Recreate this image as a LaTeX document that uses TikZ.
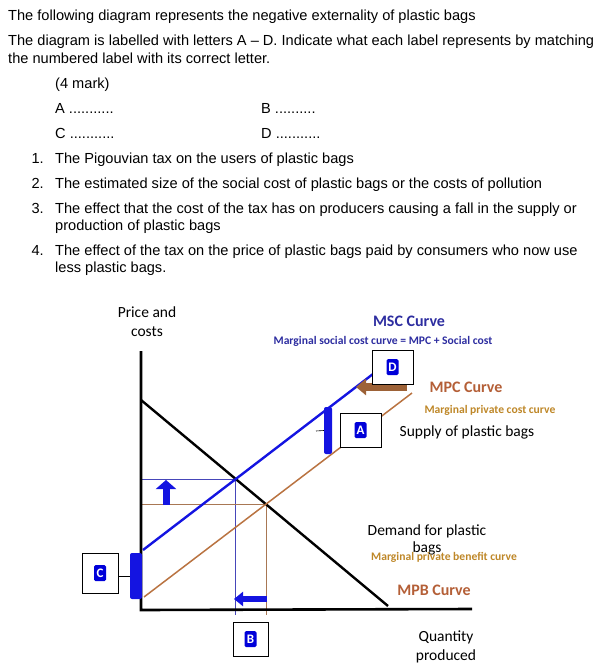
\documentclass[tikz,border=0pt]{standalone}
\usepackage{fontspec}
\setmainfont{Liberation Sans}
\newfontfamily\chartfont{Carlito}
\usetikzlibrary{arrows.meta,positioning}

\definecolor{mscblue}{RGB}{20,20,225}
\definecolor{msctext}{RGB}{45,45,160}
\definecolor{mpcbrown}{RGB}{185,115,65}
\definecolor{mpctext}{RGB}{180,95,55}
\definecolor{goldtext}{RGB}{190,135,40}

\begin{document}
\begin{tikzpicture}[x=1pt,y=-1pt,
    qtext/.style={anchor=base west, inner sep=0pt, font=\fontsize{14.6}{16}\selectfont},
    qnum/.style={anchor=base east, inner sep=0pt, font=\fontsize{14.6}{16}\selectfont},
    ctext/.style={inner sep=0pt, align=center, font=\chartfont\fontsize{15.5}{19}\selectfont},
    cbold/.style={inner sep=0pt, font=\chartfont\bfseries\fontsize{16}{19}\selectfont},
    csmall/.style={inner sep=0pt, font=\chartfont\bfseries\fontsize{11.6}{13}\selectfont},
    lblbox/.style={draw, fill=white, line width=0.8pt, minimum width=41pt, minimum height=34pt, inner sep=0pt},
    lbltag/.style={fill=blue!85!black, text=white, rounded corners=1.5pt, minimum width=12pt, minimum height=16pt, inner sep=0pt, font=\chartfont\bfseries\fontsize{13}{13}\selectfont},
    valbar/.style={fill=mscblue, rounded corners=2pt, inner sep=0pt},
    guide/.style={line width=0.7pt}
  ]
  \useasboundingbox (0,0) rectangle (599,670);

  % question
  \node[qtext] (q1) at (8,20) {The following diagram represents the negative externality of plastic bags};
  \node[qtext] (q2) at (8,45) {The diagram is labelled with letters A -- D. Indicate what each label represents by matching};
  \node[qtext] (q3) at (8,63) {the numbered label with its correct letter.};
  \node[qtext] (mk) at (55,88) {(4 mark)};
  \node[qtext] (la) at (55,113) {A ...........};
  \node[qtext] (lb) at (261,113) {B ..........};
  \node[qtext] (lc) at (55,138) {C ...........};
  \node[qtext] (ld) at (261,138) {D ...........};
  \node[qnum] (n1) at (44,163) {1.};
  \node[qtext] (t1) at (55,163) {The Pigouvian tax on the users of plastic bags};
  \node[qnum] (n2) at (44,188) {2.};
  \node[qtext] (t2) at (55,188) {The estimated size of the social cost of plastic bags or the costs of pollution};
  \node[qnum] (n3) at (44,213) {3.};
  \node[qtext] (t3) at (55,213) {The effect that the cost of the tax has on producers causing a fall in the supply or};
  \node[qtext] (t3b) at (55,230) {production of plastic bags};
  \node[qnum] (n4) at (44,255) {4.};
  \node[qtext] (t4) at (55,255) {The effect of the tax on the price of plastic bags paid by consumers who now use};
  \node[qtext] (t4b) at (55,272) {less plastic bags.};

  % diagram points
  \coordinate (o) at (141,609);
  \coordinate (ytop) at (141,351);
  \coordinate (xend) at (472,609);
  \coordinate (d1) at (141,400);
  \coordinate (d2) at (388,606);
  \coordinate (p1) at (144,597);
  \coordinate (p2) at (412,393);
  \coordinate (s1) at (143,550);
  \coordinate (s2) at (373,374);
  \coordinate (e1) at (intersection of d1--d2 and s1--s2);
  \coordinate (e2) at (intersection of d1--d2 and p1--p2);

  % guides to the axes
  \draw[guide, blue!45!gray] (e1 -| o) -- (e1) -- (e1 |- 0,615);
  \draw[guide, mpcbrown!70!gray] (e2 -| o) -- (e2) -- (e2 |- 0,615);

  % curves
  \draw[line width=2.4pt] (d1) -- (d2);
  \draw[mpcbrown, line width=1.5pt] (p1) -- (p2);
  \draw[mscblue, line width=2.4pt] (s1) -- (s2);

  % axes
  \draw[line width=2.6pt] (ytop) -- (o |- 0,610) -- (xend);

  % arrows
  \coordinate (upa) at (166,505);
  \coordinate (upb) at (166,480);
  \draw[mscblue, line width=7pt, -{Triangle[length=9pt,width=20pt]}] (upa) -- (upb);
  \coordinate (lfa) at (267,599);
  \coordinate (lfb) at (234,599);
  \draw[mscblue, line width=6pt, -{Triangle[length=9pt,width=14pt]}] (lfa) -- (lfb);
  \coordinate (dra) at (407,387);
  \coordinate (drb) at (356,387);
  \draw[mpcbrown!85!black, line width=8pt, -{Triangle[length=10pt,width=16pt]}] (dra) -- (drb);

  % bars and labels
  \node[valbar, minimum width=8pt, minimum height=47pt] (abar) at (328,430.5) {};
  \coordinate (atick) at (316,431);
  \draw[line width=0.6pt] (atick) -- (abar.west);
  \node[valbar, minimum width=12pt, minimum height=46pt] (cbar) at (136,576) {};

  \node[lblbox] (abox) at (360.5,430) {};
  \node[lbltag] (atag) at (abox) {A};
  \node[lblbox] (dbox) at (392.5,367) {};
  \node[lbltag] (dtag) at (dbox) {D};
  \node[lblbox, minimum width=36pt, minimum height=40pt] (cbox) at (100,573) {};
  \node[lbltag] (ctag) at (cbox) {C};
  \node[lblbox, minimum width=35pt] (bbox) at (250.5,639) {};
  \node[lbltag] (btag) at (bbox) {B};
  \draw[line width=0.6pt] (cbox.east |- cbar) -- (cbar.west);

  % texts
  \node[ctext] (ylab) at (147,322) {Price and\\costs};
  \node[cbold, text=msctext] (msc) at (409,321) {MSC Curve};
  \node[csmall, text=msctext] (mscdef) at (383,341) {Marginal social cost curve = MPC + Social cost};
  \node[cbold, text=mpctext] (mpc) at (466,387) {MPC Curve};
  \node[csmall, text=goldtext] (mpcdef) at (490,410) {Marginal private cost curve};
  \node[ctext] (supply) at (467,432) {Supply of plastic bags};
  \node[ctext, font=\chartfont\fontsize{15.5}{17}\selectfont] (demand) at (427,540) {Demand for plastic\\bags};
  \node[csmall, text=goldtext] (mpbdef) at (444,557) {Marginal private benefit curve};
  \node[cbold, text=mpctext] (mpb) at (434,590) {MPB Curve};
  \node[ctext] (xlab) at (446,647) {Quantity\\produced};
\end{tikzpicture}
\end{document}
